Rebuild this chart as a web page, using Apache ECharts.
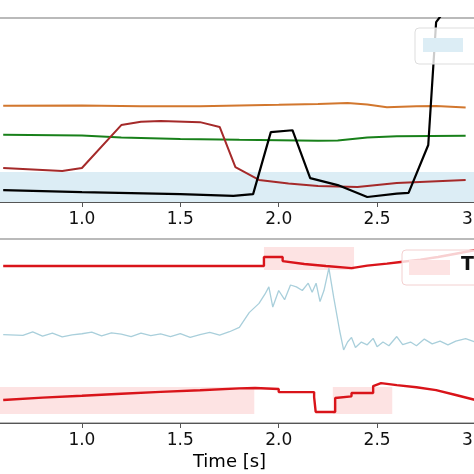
<!DOCTYPE html>
<html>
<head>
<meta charset="utf-8">
<script src="https://cdn.jsdelivr.net/npm/echarts@6/dist/echarts.min.js"></script>
<style>html,body{margin:0;padding:0;background:#fff;overflow:hidden;width:474px;height:474px}#chart{width:525px;height:474px;margin-left:-33px}</style>
</head>
<body>
<div id="chart"></div>
<script>
// top panel
var topOrange = [[0.6,52.3],[1.0,52.4],[1.3,52],[1.6,52],[1.8,52.4],[2.0,52.8],[2.2,53.3],[2.35,53.8],[2.45,53],[2.55,51.5],[2.7,52],[2.8,52.2],[2.95,51.4]];
var topGreen = [[0.6,36.5],[1.0,36.2],[1.2,35],[1.5,34.2],[1.8,33.8],[2.0,33.6],[2.2,33.3],[2.3,33.4],[2.45,35],[2.6,35.8],[2.95,36]];
var topBrown = [[0.6,18.5],[0.9,16.8],[1.0,18.5],[1.2,41.8],[1.3,43.6],[1.4,44],[1.6,43.4],[1.7,40.8],[1.78,19],[1.9,12],[2.05,10],[2.2,8.7],[2.4,8.2],[2.6,10.3],[2.95,12]];
var topBlack = [[0.6,6.5],[1.0,5.4],[1.5,4.3],[1.77,3.3],[1.87,4.3],[1.96,38],[2.07,39],[2.16,13],[2.3,9.2],[2.45,2.7],[2.6,4.6],[2.66,5.0],[2.76,31],[2.80,97.8],[2.83,102],[2.9,110]];
var topBand = [0, 16.3];
// bottom panel
var botUpper = [[0.6,85.3],[1.925,85.3],[1.925,90.2],[2.02,90.2],[2.02,88],[2.13,86.4],[2.24,85.3],[2.37,84.2],[2.45,85.5],[2.55,86.6],[2.62,87.5],[2.72,88.8],[2.81,90.2],[2.9,92],[3.0,94]];
var botLower = [[0.6,12.5],[0.8,13.8],[1.0,14.8],[1.2,15.9],[1.4,16.9],[1.6,17.8],[1.8,18.8],[1.88,19],[2.0,18.5],[2.0,16.8],[2.18,16.8],[2.18,14.1],[2.188,6],[2.287,6],[2.287,13.6],[2.37,14.5],[2.37,16.3],[2.48,16.3],[2.48,20.1],[2.52,21.7],[2.6,20.6],[2.7,19.4],[2.8,17.9],[2.9,15.2],[3.0,12.5]];
var botBlue = [[0.6,48],[0.7,47.6],[0.75,49.5],[0.8,47.2],[0.85,48.9],[0.9,46.8],[0.95,47.9],[1.0,48.5],[1.05,49.4],[1.1,47.4],[1.15,49],[1.2,48.3],[1.25,46.9],[1.3,48.8],[1.35,47.5],[1.4,48.4],[1.45,47],[1.5,48.6],[1.55,46.5],[1.6,48],[1.65,49.2],[1.7,47.8],[1.75,49.6],[1.8,52],[1.85,60],[1.9,65],[1.93,70],[1.95,74],[1.97,63],[2.0,72],[2.03,67],[2.06,75],[2.09,74],[2.12,72],[2.15,76],[2.17,71],[2.19,76],[2.21,66],[2.23,72],[2.255,84.2],[2.28,68],[2.31,50],[2.33,39.7],[2.35,44],[2.37,46.5],[2.39,41],[2.42,44],[2.45,42.5],[2.48,46],[2.5,41.5],[2.53,44],[2.56,42],[2.6,47],[2.63,42.6],[2.67,44],[2.7,42],[2.74,45.6],[2.78,43],[2.82,44.5],[2.86,42.5],[2.9,44.5],[2.95,45.8],[3.0,44]];
var pinkUpper = [[1.925,2.383,83.2,95.7]];
var pinkLower = [[0.5,1.876,4.9,19.6],[2.275,2.577,4.9,19.6]];

var chart = echarts.init(document.getElementById('chart'));
var font = 'DejaVu Sans';
var ox = 33; // page offset of the canvas
function xAxisCfg(idx, name){
  return {gridIndex: idx, type:'value', min:0.5, max:3.0, interval:0.5,
    name: name, nameLocation:'middle', nameGap:30,
    nameTextStyle:{fontFamily:font, fontSize:18, color:'#000'},
    axisLine:{lineStyle:{color:'#555', width:1.2}},
    axisTick:{length:5, lineStyle:{color:'#555'}},
    axisLabel:{fontFamily:font, fontSize:17, color:'#111', margin:9,
      formatter:function(v){ return v.toFixed(1); }},
    splitLine:{show:false}};
}
function yAxisCfg(idx){
  return {gridIndex: idx, type:'value', min:0, max:100, show:false};
}
function areas(list){
  return list.map(function(a){ return [{xAxis:a[0], yAxis:a[2]},{xAxis:a[1], yAxis:a[3]}]; });
}
function line(name, data, color, w, xi, extra){
  var s = {name:name, type:'line', xAxisIndex:xi, yAxisIndex:xi, data:data, symbol:'none',
    lineStyle:{color:color, width:w}, clip:true, z:3};
  for (var k in extra) s[k] = extra[k];
  return s;
}
chart.setOption({
  animation:false,
  grid:[
    {left:0, right:0, top:18, height:184, show:true, borderColor:'#777', borderWidth:1.2},
    {left:0, right:14, top:239, height:184, show:true, borderColor:'#777', borderWidth:1.2}
  ],
  xAxis:[xAxisCfg(0,''), xAxisCfg(1,'Time [s]')],
  yAxis:[yAxisCfg(0), yAxisCfg(1)],
  series:[
    line('band', [], '#000', 0, 0, {markArea:{silent:true, itemStyle:{color:'#dcedf5'},
      data:[[{xAxis:0.5, yAxis:topBand[0]},{xAxis:3.0, yAxis:topBand[1]}]]}}),
    line('orange', topOrange, '#d2772e', 2, 0),
    line('green', topGreen, '#18801a', 2, 0),
    line('brown', topBrown, '#a52a2a', 2, 0),
    line('black', topBlack, '#000', 2.2, 0),
    line('pinkU', [], '#000', 0, 1, {markArea:{silent:true, itemStyle:{color:'#fde3e3'}, data:areas(pinkUpper)}}),
    line('pinkL', [], '#000', 0, 1, {markArea:{silent:true, itemStyle:{color:'#fde3e3'}, data:areas(pinkLower)}}),
    line('blue', botBlue, '#a9cfdb', 1.3, 1),
    line('upper', botUpper, '#d9141a', 2.4, 1),
    line('lower', botLower, '#d9141a', 2.4, 1)
  ],
  graphic:[
    {type:'rect', shape:{x:415+ox, y:28, width:70, height:36, r:4}, style:{fill:'rgba(255,255,255,0.8)', stroke:'#ddd'}, z:10},
    {type:'rect', shape:{x:423+ox, y:38, width:40, height:14}, style:{fill:'#dcedf5'}, z:11},
    {type:'rect', shape:{x:402+ox, y:250, width:80, height:35, r:4}, style:{fill:'rgba(255,255,255,0.8)', stroke:'#f3d0d0'}, z:10},
    {type:'rect', shape:{x:409+ox, y:260, width:41, height:15}, style:{fill:'#fde3e3'}, z:11},
    {type:'text', x:461+ox, y:256, style:{text:'T', font:'bold 19px DejaVu Sans', fill:'#111'}, z:11}
  ]
});
</script>
</body>
</html>
